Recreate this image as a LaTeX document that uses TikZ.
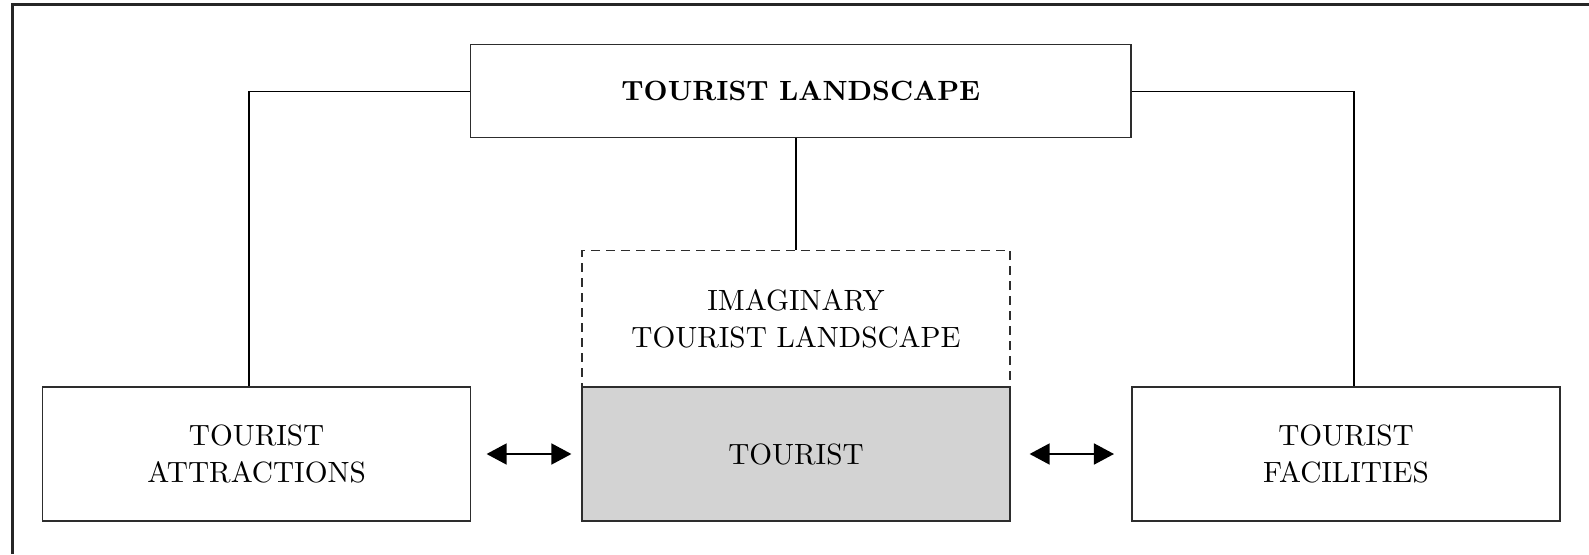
\documentclass[tikz,border=0pt]{standalone}
\usepackage{tikz}
\usetikzlibrary{arrows.meta}

\definecolor{tourgray}{RGB}{211,211,211}
\definecolor{linegray}{RGB}{45,45,45}

\begin{document}
\begin{tikzpicture}[
    box/.style={draw=linegray, line width=0.41pt, inner sep=0pt, align=center,
        font=\fontsize{10}{12.9}\selectfont},
    link/.style={draw=black, line width=0.45pt},
    biarrow/.style={draw=black, line width=0.57pt,
        {Triangle[length=0.24cm,width=0.252cm]}-{Triangle[length=0.24cm,width=0.252cm]}}
]
\useasboundingbox (0,0) rectangle (19.068,6.648);

% frame
\path[draw, line width=0.95pt, draw=black!85] (0.149,0) -- (0.149,6.593) -- (19.068,6.593);

\node[box, minimum width=7.924cm, minimum height=1.120cm,
      font=\fontsize{9.5}{11}\selectfont\bfseries] (land) at (9.610,5.554) {TOURIST LANDSCAPE};
\node[box, dashed, dash pattern=on 3.07pt off 2.05pt, minimum width=5.136cm, minimum height=1.636cm] (imag) at (9.552,2.822) {IMAGINARY\\TOURIST LANDSCAPE};
\node[box, fill=tourgray, minimum width=5.136cm, minimum height=1.608cm] (tour) at (9.552,1.200) {TOURIST};
\node[box, minimum width=5.140cm, minimum height=1.608cm] (attr) at (3.079,1.200) {TOURIST\\ATTRACTIONS};
\node[box, minimum width=5.136cm, minimum height=1.608cm] (fac) at (16.152,1.200) {TOURIST\\FACILITIES};

% redraw dashed edge over the gray box
\path[draw=linegray, line width=0.41pt, dash pattern=on 3.07pt off 2.05pt] (imag.south west) -- (imag.south east);

\path[link] (land.west) -| ([xshift=-0.091cm]attr.north);
\path[link] (land.east) -| ([xshift=0.096cm]fac.north);
\path[link] (imag.north) -- (imag.north |- land.south);

\path[biarrow, shorten <=0.183cm, shorten >=0.12cm] (attr.east) -- (tour.west);
\path[biarrow, shorten <=0.228cm, shorten >=0.209cm] (tour.east) -- (fac.west);
\end{tikzpicture}
\end{document}
